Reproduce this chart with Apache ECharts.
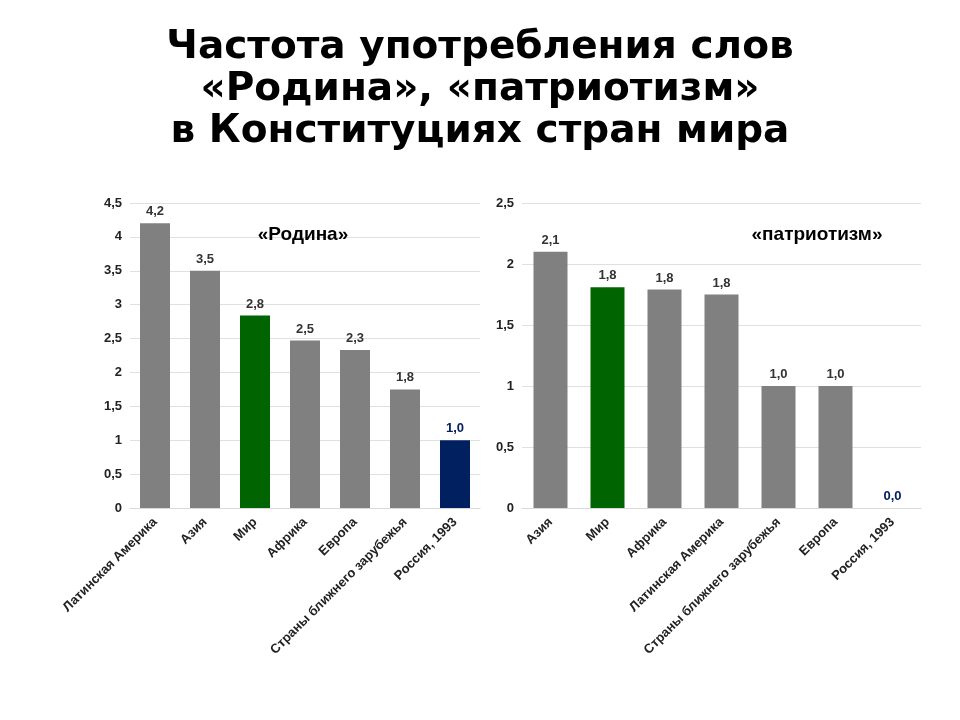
<!DOCTYPE html>
<html><head><meta charset="utf-8">
<script src="https://cdn.jsdelivr.net/npm/echarts@6/dist/echarts.min.js"></script>
<style>html,body{margin:0;padding:0;background:#fff}#c{width:960px;height:720px}</style>
</head><body><div id="c"></div>
<script>
const titleLines = ['Частота употребления слов', '«Родина», «патриотизм»', 'в Конституциях стран мира'];
const leftCats = ['Латинская Америка','Азия','Мир','Африка','Европа','Страны ближнего зарубежья','Россия, 1993'];
const leftVals = [4.2, 3.5, 2.84, 2.47, 2.33, 1.75, 1.0];
const rightCats = ['Азия','Мир','Африка','Латинская Америка','Страны ближнего зарубежья','Европа','Россия, 1993'];
const rightVals = [2.1, 1.81, 1.79, 1.75, 1.0, 1.0, 0];
const leftName = '«Родина»';
const rightName = '«патриотизм»';

const GRAY='#808080', GREEN='#006400', NAVY='#002060';
function color(c){return c==='Мир'?GREEN:(c==='Россия, 1993'?NAVY:GRAY);}
function fmt(v){return v.toFixed(1).replace('.',',');}
function ax(v){return String(v).replace('.',',');}
function data(cats, vals){
  return vals.map((v,i)=>({value:v,itemStyle:{color:color(cats[i])},
    label:{color:cats[i]==='Россия, 1993'?NAVY:'#333'}}));
}
const font='"Liberation Sans", Arial, sans-serif';
const xa = (cats,idx)=>({type:'category',data:cats,gridIndex:idx,
  axisLine:{lineStyle:{color:'#d9d9d9'}},axisTick:{show:false},
  axisLabel:{rotate:45,interval:0,fontWeight:'bold',fontSize:13,color:'#222',fontFamily:font,margin:12}});
const ya = (max,idx)=>({type:'value',min:0,max:max,interval:0.5,gridIndex:idx,
  axisLabel:{formatter:ax,fontWeight:'bold',fontSize:13,color:'#222',fontFamily:font},
  splitLine:{lineStyle:{color:'#e0e0e0'}},axisLine:{show:false}});
const lbl={show:true,position:'top',fontWeight:'bold',fontSize:13,fontFamily:font,formatter:p=>fmt(p.value)};
const chart=echarts.init(document.getElementById('c'));
chart.setOption({
  animation:false,
  title:[{text:titleLines.join('\n'),left:'center',top:22,
    textStyle:{fontSize:39,fontWeight:'bold',color:'#000',fontFamily:'"DejaVu Sans", sans-serif',lineHeight:42}},
    {text:leftName,left:298,top:220,textAlign:'center',textStyle:{fontSize:19,fontWeight:'bold',color:'#000',fontFamily:font}},
    {text:rightName,left:812,top:220,textAlign:'center',textStyle:{fontSize:19,fontWeight:'bold',color:'#000',fontFamily:font}}],
  grid:[{left:130,right:480,top:203,bottom:212},{left:522,right:39,top:203,bottom:212}],
  xAxis:[xa(leftCats,0),xa(rightCats,1)],
  yAxis:[ya(4.5,0),ya(2.5,1)],
  series:[
    {type:'bar',xAxisIndex:0,yAxisIndex:0,barWidth:30,data:data(leftCats,leftVals),label:lbl},
    {type:'bar',xAxisIndex:1,yAxisIndex:1,barWidth:34,data:data(rightCats,rightVals),label:lbl}
  ]
});
</script></body></html>
